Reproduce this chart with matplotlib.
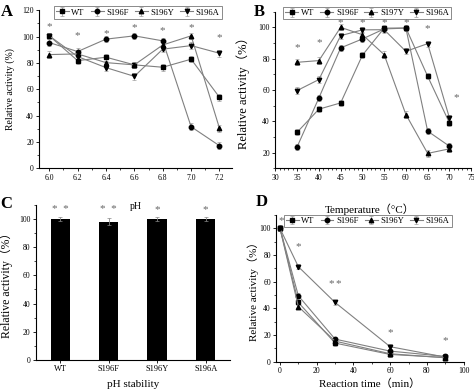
import matplotlib
matplotlib.use("Agg")
import matplotlib.pyplot as plt
from matplotlib.ticker import MultipleLocator

plt.rcParams['font.family'] = ['Liberation Serif', 'Noto Sans CJK SC']
plt.rcParams['axes.linewidth'] = 0.8

# A: pH
ph = [6.0, 6.2, 6.4, 6.6, 6.8, 7.0, 7.2]
ph_wt = [100.5, 81.7, 84.3, 78.5, 76.7, 82.8, 53.9]
ph_f = [95.4, 88.6, 98.0, 100.5, 96.7, 31.6, 17.2]
ph_y = [86.3, 86.8, 80.2, 78.5, 93.6, 100.5, 30.4]
ph_a = [100.5, 84.8, 76.4, 69.8, 90.4, 93.1, 87.3]
ph_star = [107.5, 100.5, 102.5, 107, 104.5, 107, 99.5]

# B: temperature
temp = [35, 40, 45, 50, 55, 60, 65, 70]
t_wt = [33.1, 47.8, 51.8, 82.2, 99.5, 99.6, 68.8, 39.1]
t_f = [23.8, 55.0, 86.9, 92.6, 99.0, 99.5, 33.8, 24.2]
t_y = [77.7, 78.8, 100.0, 95.3, 82.6, 44.4, 19.6, 22.5]
t_a = [59.7, 66.7, 94.7, 98.4, 98.5, 84.7, 89.6, 42.3]
t_star_x = [35, 40, 45, 50, 55, 60, 65, 71.5]
t_star_y = [87, 90, 103, 103, 103, 103, 99.5, 55.4]

# C: pH stability
c_names = ['WT', 'S196F', 'S196Y', 'S196A']
c_vals = [100, 98.2, 100, 100]
c_err = [1.5, 2.5, 1.5, 1.5]
c_star = ['*  *', '*  *', '*', '*']

# D: thermal stability
rt = [0, 10, 30, 60, 90]
d_wt = [100, 44.5, 14.0, 5.5, 3.2]
d_f = [100, 49.5, 17.0, 8.0, 4.0]
d_y = [100, 41.3, 15.5, 6.0, 3.0]
d_a = [100, 71.3, 44.5, 11.3, 3.5]
d_star_x = [0.5, 10, 28, 32, 60, 90]
d_star_y = [106, 86.5, 58.5, 58.5, 22, 16]

markers = ['s', 'o', '^', 'v']
lc = '#808080'

fig = plt.figure(figsize=(4.74, 3.89), dpi=100)
axA = fig.add_axes([0.083, 0.567, 0.407, 0.407])
axB = fig.add_axes([0.581, 0.567, 0.413, 0.403])
axC = fig.add_axes([0.076, 0.075, 0.409, 0.398])
axD = fig.add_axes([0.583, 0.070, 0.395, 0.377])


def style(ax):
    ax.patch.set_alpha(0)
    ax.spines['top'].set_visible(False)
    ax.spines['right'].set_visible(False)
    ax.tick_params(direction='out', labelsize=5.5, length=2.5, width=0.6, pad=1.5)
    ax.tick_params(which='minor', direction='out', length=1.5, width=0.5)


def lines(ax, x, series, labels, err):
    for s, m, lab in zip(series, markers, labels):
        ax.errorbar(x, s, yerr=err, color=lc, lw=0.8, marker=m, ms=3.2,
                    mfc='black', mec='black', ecolor='#a0a0a0', elinewidth=0.6,
                    capsize=1.5, capthick=0.5, label=lab)


def legend(ax, loc, anchor):
    leg = ax.legend(loc=loc, bbox_to_anchor=anchor, ncol=4, fontsize=6.2,
                    frameon=True, fancybox=False, handlelength=1.5,
                    columnspacing=0.7, handletextpad=0.3, borderpad=0.25,
                    borderaxespad=0)
    leg.get_frame().set_edgecolor('#555555')
    leg.get_frame().set_linewidth(0.6)


def stars(ax, xs, ys, txt=None):
    for i, (x, y) in enumerate(zip(xs, ys)):
        t = '*' if txt is None else txt[i]
        ax.text(x, y, t, ha='center', va='center', fontsize=8, color='#666666')


# panel A
style(axA)
lines(axA, ph, [ph_wt, ph_f, ph_y, ph_a], ['WT', 'S196F', 'S196Y', 'S196A'], 2.5)
stars(axA, ph, ph_star)
axA.set_xlim(5.93, 7.29)
axA.set_ylim(0, 120)
axA.xaxis.set_major_locator(MultipleLocator(0.2))
axA.xaxis.set_minor_locator(MultipleLocator(0.1))
axA.yaxis.set_major_locator(MultipleLocator(20))
axA.yaxis.set_minor_locator(MultipleLocator(10))
axA.set_xlabel('pH', fontsize=7)
axA.xaxis.set_label_coords(0.5, -0.215)
axA.set_ylabel('Relative activity (%)', fontsize=7)
axA.yaxis.set_label_coords(-0.126, 0.5)
legend(axA, 'center', (0.51, 0.985))

# panel B
style(axB)
lines(axB, temp, [t_wt, t_f, t_y, t_a], ['WT', 'S196F', 'S197Y', 'S196A'], 2.0)
stars(axB, t_star_x, t_star_y)
axB.set_xlim(30, 75)
axB.set_ylim(10, 110)
axB.xaxis.set_major_locator(MultipleLocator(5))
axB.xaxis.set_minor_locator(MultipleLocator(1))
axB.yaxis.set_major_locator(MultipleLocator(20))
axB.yaxis.set_minor_locator(MultipleLocator(10))
axB.set_yticks([20, 40, 60, 80, 100])
axB.set_xlabel('Temperature（°C）', fontsize=8)
axB.xaxis.set_label_coords(0.48, -0.223)
axB.set_ylabel('Relative activity（%）', fontsize=9)
axB.yaxis.set_label_coords(-0.13, 0.5)
legend(axB, 'center', (0.47, 0.99))

# panel C
style(axC)
pos = list(range(1, len(c_names) + 1))
axC.bar(pos, c_vals, width=0.4, color='black', yerr=c_err,
        error_kw=dict(ecolor='#888888', elinewidth=0.6, capsize=1.5, capthick=0.5))
stars(axC, pos, [107] * 4, c_star)
axC.set_xlim(0.5, 4.5)
axC.set_ylim(0, 110)
axC.set_xticks(pos)
axC.set_xticklabels(c_names, fontsize=6)
axC.yaxis.set_major_locator(MultipleLocator(20))
axC.yaxis.set_minor_locator(MultipleLocator(10))
axC.set_xlabel('pH stability', fontsize=8)
axC.xaxis.set_label_coords(0.5, -0.13)
axC.set_ylabel('Relative activity（%）', fontsize=8.5)
axC.yaxis.set_label_coords(-0.12, 0.5)

# panel D
style(axD)
lines(axD, rt, [d_wt, d_f, d_y, d_a], ['WT', 'S196F', 'S196Y', 'S196A'], 1.8)
stars(axD, d_star_x, d_star_y)
axD.set_xlim(-2, 100)
axD.set_ylim(0, 110)
axD.xaxis.set_major_locator(MultipleLocator(20))
axD.xaxis.set_minor_locator(MultipleLocator(10))
axD.yaxis.set_major_locator(MultipleLocator(20))
axD.yaxis.set_minor_locator(MultipleLocator(10))
axD.set_xlabel('Reaction time（min）', fontsize=8)
axD.xaxis.set_label_coords(0.5, -0.113)
axD.set_ylabel('Relative activity（%）', fontsize=8)
axD.yaxis.set_label_coords(-0.094, 0.5)
legend(axD, 'center', (0.487, 0.96))

# panel letters
for lab, x, y in [('A', 0.002, 0.99), ('B', 0.535, 0.99), ('C', 0.0, 0.497), ('D', 0.54, 0.5)]:
    fig.text(x, y, lab, fontsize=12, fontweight='bold', va='top', ha='left')

fig.savefig('out.png', dpi=100)
